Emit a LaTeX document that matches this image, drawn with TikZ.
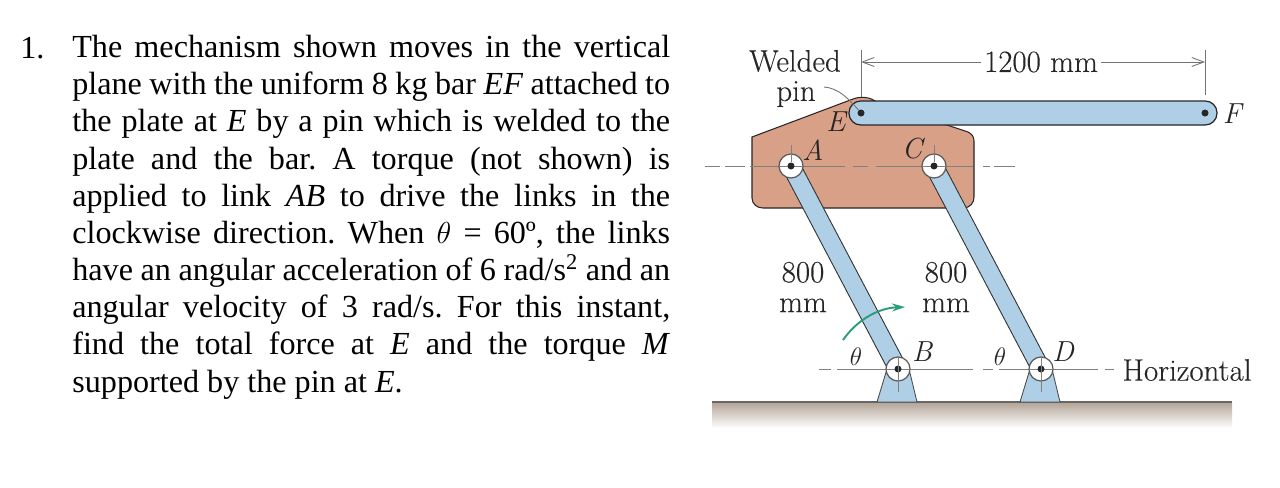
\documentclass[tikz,border=0pt]{standalone}
\usepackage{fontspec}
\newfontfamily\probfont{Liberation Serif}
\newfontfamily\figfont[FakeBold=0.25]{Latin Modern Roman}
\usetikzlibrary{arrows.meta, calc}

\tikzset{
	prose/.style={inner sep=0pt, font=\probfont\fontsize{18.3}{21.15}\selectfont},
	lbl/.style={inner sep=0pt, text=black!85, font=\figfont\fontsize{17.6}{20}\selectfont},
	pt/.style={inner sep=0pt, text=black!85, font=\fontsize{16.5}{18}\selectfont\itshape},
	ang/.style={inner sep=0pt, text=black!85, font=\fontsize{14}{16}\selectfont},
	linkbar/.style={draw=black!80, line width=0.6pt, double=linkblue, double distance=0.34cm},
	centerline/.style={draw=black!50, line width=0.5pt},
	dim/.style={draw=black!55, line width=0.5pt},
	pinring/.style={circle, draw=black!65, fill=white, line width=0.7pt, minimum size=0.48cm, inner sep=0pt},
	pindot/.style={circle, fill=black!85, minimum size=0.14cm, inner sep=0pt}
}
\definecolor{linkblue}{HTML}{AFCFE6}
\definecolor{platered}{HTML}{D9A088}
\definecolor{groundtan}{HTML}{B5A79B}
\definecolor{arcgreen}{HTML}{2F9C78}

\begin{document}
\begin{tikzpicture}[x=0.02cm, y=-0.02cm]
	\useasboundingbox (0,0) rectangle (1280,487);

	\node[prose, anchor=base west] (num) at (20,58) {1.};
	\node[prose, anchor=north west, text width=11.96cm, align=justify] (problem) at (72,35) {\frenchspacing The mechanism shown moves in the vertical\linebreak
		plane with the uniform 8 kg bar \emph{EF} attached to\linebreak
		the plate at \emph{E} by a pin which is welded to the\linebreak
		plate and the bar. A torque (not shown) is\linebreak
		applied to link \emph{AB} to drive the links in the\linebreak
		clockwise direction. When $\theta$ = 60º, the links\linebreak
		have an angular acceleration of 6 rad/s\textsuperscript{2} and an\linebreak
		angular velocity of 3 rad/s. For this instant,\linebreak
		find the total force at \emph{E} and the torque \emph{M}\linebreak
		supported by the pin at \emph{E}.};

	\coordinate (A) at (791,166);
	\coordinate (C) at (934,166);
	\coordinate (B) at (898,369);
	\coordinate (D) at (1041,369);
	\coordinate (E) at (861,113);
	\coordinate (F) at (1205,113);

	\begin{scope}
		\shade[top color=groundtan, bottom color=white] (712,403) rectangle (1232,428);
		\draw[black!60, line width=1.4pt] (712,402) -- (1232,402);
	\end{scope}

	\begin{scope}
		\draw[black!85, fill=platered, line width=0.6pt] (752,137) -- (853,99) .. controls (858,97) and (868,96) .. (875,101) -- (935,122) -- (947,125) -- (968,132) .. controls (972,134) and (974,137) .. (974,141) -- (974,197) .. controls (974,203) and (970,208) .. (963,208) -- (763,208) .. controls (757,208) and (752,204) .. (752,198) -- cycle;
		\draw[black!85, fill=linkblue, line width=0.7pt, rounded corners=0.235cm] (849,101) rectangle (1217,125);
	\end{scope}

	\draw[centerline, dash pattern=on 0.3cm off 0.1cm on 0.4cm off 0.1cm on 1.9cm off 0.16cm on 0.3cm off 0.16cm on 1.94cm off 0.2cm on 0.14cm off 0.08cm on 0.44cm off 1cm] (705,166) -- (1015,166);
	\draw[centerline, dash pattern=on 0.24cm off 0.12cm on 2.72cm off 0.2cm on 0.2cm off 0.12cm on 1.98cm off 0.14cm on 0.22cm off 0.1cm on 0.22cm off 1cm] (819,369) -- (1114,369);

	\begin{scope}
		\draw[linkbar] (A) -- (B);
		\draw[linkbar] (C) -- (D);
	\end{scope}

	\begin{scope}
		\draw[black!70, fill=linkblue, line width=0.5pt] (877,402) -- (887,369) -- (909,369) -- (917,402) -- cycle;
		\draw[black!70, fill=linkblue, line width=0.5pt] (1020,402) -- (1030,369) -- (1052,369) -- (1060,402) -- cycle;
	\end{scope}

	\foreach \p in {A,B,C,D} {
		\node[pinring] (ring\p) at (\p) {};
		\draw[black!50, line width=0.4pt] ($(\p)+(-12,0)$) -- ($(\p)+(12,0)$);
		\node[pindot] (dot\p) at (\p) {};
	}
	\foreach \p in {A,C} {
		\draw[black!50, line width=0.4pt] (dot\p) -- ($(\p)+(0,-21)$);
	}
	\foreach \p in {B,D} {
		\draw[black!50, line width=0.4pt] ($(\p)+(0,-12)$) -- ($(\p)+(0,23)$);
	}
	\node[pindot] (dotE) at (E) {};
	\node[pindot] (dotF) at (F) {};

	\node[lbl] (welded) at (795,61) {Welded};
	\node[lbl] (pin) at (796,94) {pin};
	\node[lbl, inner sep=1.5pt] (span) at (1041,62) {1200 mm};
	\node[lbl, align=center] (lenAB) at (803,287) {800\\[-3pt]mm};
	\node[lbl, align=center] (lenCD) at (946,287) {800\\[-3pt]mm};
	\node[lbl] (horizontal) at (1187,370) {Horizontal};

	\node[pt] (labE) at (836,122) {E};
	\node[pt] (labA) at (813,150) {A};
	\node[pt] (labC) at (912,149) {C};
	\node[pt] (labF) at (1232,114) {F};
	\node[pt] (labB) at (922,352) {B};
	\node[pt] (labD) at (1063,352) {D};
	\node[ang] (thAB) at (856,357) {$\theta$};
	\node[ang] (thCD) at (1000,357) {$\theta$};

	\coordinate (extEtop) at (861,50);
	\coordinate (extEend) at (861,97);
	\coordinate (extFtop) at (1205,50);
	\coordinate (extFend) at (1205,95);
	\coordinate (dimE) at (861,62);
	\coordinate (dimF) at (1205,62);
	\coordinate (leaderIn) at (824,87);
	\coordinate (arcIn) at (843,340);
	\coordinate (arcOut) at (905,307);

	\begin{scope}[dim]
		\draw (extEtop) -- (extEend);
		\draw (extFtop) -- (extFend);
		\draw[-{Straight Barb[length=0.24cm,width=0.18cm]}] (span) -- (dimE);
		\draw[-{Straight Barb[length=0.24cm,width=0.18cm]}] (span) -- (dimF);
	\end{scope}
	\draw[dim] (leaderIn) .. controls (838,88) and (848,98) .. (dotE);
	\draw[arcgreen, line width=1.1pt, -{Stealth[length=0.26cm,width=0.16cm]}] (arcIn) .. controls (857,320) and (878,308) .. (arcOut);
\end{tikzpicture}
\end{document}
